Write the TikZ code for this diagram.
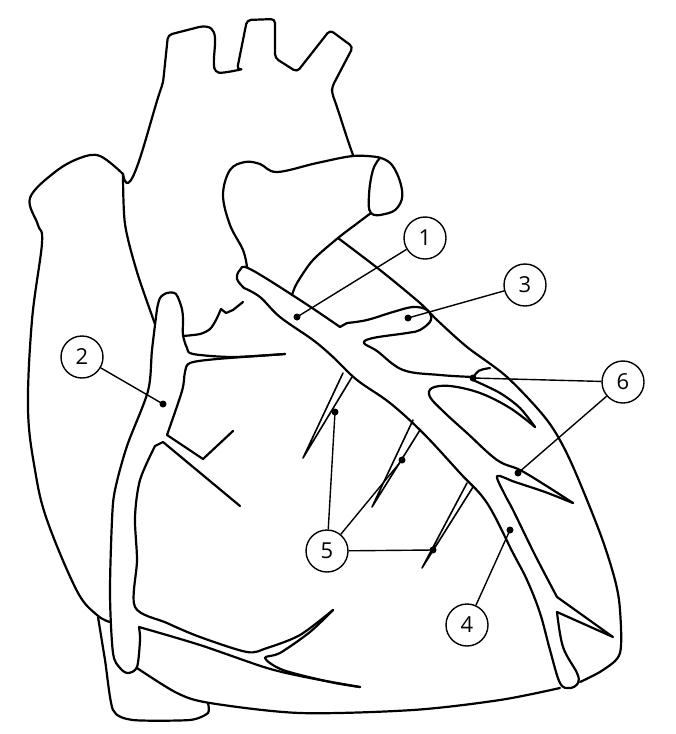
\documentclass[tikz,border=0pt]{standalone}
\usepackage{fontspec}
\setmainfont{Open Sans}
\begin{document}
\begin{tikzpicture}[x=1pt,y=-1pt,
  ol/.style={line width=2.2pt,line join=round,line cap=round},
  lbl/.style={circle,draw,line width=1.4pt,minimum size=42pt,inner sep=0pt,font=\fontsize{22}{22}\selectfont},
  lead/.style={line width=1.4pt},
  dotc/.style={circle,fill,inner sep=0pt,minimum size=7pt}]
\useasboundingbox (0,0) rectangle (676,734);
% aorta
\draw[ol,rounded corners=4pt] (123,174) to[out=-80,in=250] (163,83) -- (168,35) -- (203,26) to[out=-10,in=100] (215,72) to[out=-10,in=10] (237,70) -- (247,20) -- (275,19) -- (275,58) -- (297,72) -- (330,30) -- (353,47) -- (332,87) -- (332,93) to[out=-70,in=110] (353,155);
% right atrium
\draw[ol] plot[smooth,tension=0.6] coordinates {(123,174)(100,156)(80,158)(55,172)(30,198)(38,225)(42,243)(32,320)(28,409)(35,470)(47,520)(77,591)(97,615)(110,622)};
\draw[ol] plot[smooth] coordinates {(123,174)(125,224)(137,272)(155,324)};
% IVC
\draw[ol] plot[smooth,tension=0.4] coordinates {(98,617)(105,660)(113,710)(133,720)(190,720)(208,713)(208,703)};
% pulmonary trunk
\draw[ol] plot[smooth,tension=0.6] coordinates {(247,267)(243,250)(230,225)(223,195)(230,170)(245,162)(260,164)(277,172)(317,163)(353,156)(377,157)};
\draw[ol] plot[smooth,tension=0.7] coordinates {(377,157)(392,165)(402,190)(398,207)(385,214)(371,213)(369,195)(373,170)(380,158)};
\draw[ol] plot[smooth] coordinates {(371,213)(355,225)(338,238)(313,260)(297,283)(292,295)};
% heart right outline
\draw[ol] plot[smooth,tension=0.5] coordinates {(338,238)(380,270)(420,303)(437,320)(467,347)(507,377)(547,420)(570,460)(600,533)(615,580)(620,610)(620,653)(603,670)(580,682)};
% bottom
\draw[ol] plot[smooth,tension=0.5] coordinates {(137,668)(177,693)(210,703)(300,713)(413,710)(500,700)(560,688)};
% LAD upper
\draw[ol] plot[smooth,tension=0.6] coordinates {(244,288)(237,279)(240,270)(250,269)(300,300)(340,327)};
\draw[ol] (340,327) -- (347,323);
\draw[ol] plot[smooth,tension=0.6] coordinates {(347,323)(367,320)(393,312)(413,307)(427,310)(431,320)(420,330)(407,333)(373,338)(364,343)(377,351)(403,370)(440,375)(473,377)};
\draw[ol] plot[smooth,tension=0.5] coordinates {(473,380)(500,393)(520,408)(535,427)};
\draw[ol] plot[smooth,tension=0.6] coordinates {(535,427)(510,408)(480,393)(450,386)(432,388)(430,397)(445,413)(467,433)(497,460)(520,470)(545,485)(573,503)};
\draw[ol] plot[smooth,tension=0.5] coordinates {(573,503)(545,492)(515,482)(497,476)(505,495)(513,510)(535,555)(557,597)};
\draw[ol] (557,597) -- (613,637) -- (557,612);
\draw[ol] plot[smooth,tension=0.6] coordinates {(557,612)(563,647)(577,673)(578,683)(570,688)(560,683)(550,650)(540,613)(527,580)(513,553)(487,503)(460,473)(423,433)(390,403)(357,380)(333,357)(313,340)(280,317)(260,297)(244,288)};
\draw[ol] (473,378) .. controls (478,370) .. (490,368);
% septal branches
\draw[ol,line width=1.6pt] (352,377) -- (303,458) -- (343,373);
\draw[ol,line width=1.6pt] (420,430) -- (372,507) -- (413,420);
\draw[ol,line width=1.6pt] (473,487) -- (422,568) -- (467,483);
% RCA
\draw[ol] plot[smooth,tension=0.5] coordinates {(157,309)(152,350)(148,391)(127,446)(115,490)(112,520)(110,594)(113,653)(120,668)(128,673)(137,667)(140,640)(139,627)};
\draw[ol] plot[smooth,tension=0.5] coordinates {(139,627)(200,645)(267,668)(310,678)(360,687)};
\draw[ol] plot[smooth,tension=0.5] coordinates {(360,687)(330,682)(283,670)(265,658)(280,653)(310,632)(333,610)};
\draw[ol] plot[smooth,tension=0.5] coordinates {(333,610)(300,635)(267,648)(247,652)(200,637)(167,623)(135,607)(137,560)(135,517)(140,480)(155,446)};
\draw[ol] (155,446) -- (163,442) -- (240,506);
\draw[ol] (233,431) -- (203,459) -- (167,435);
\draw[ol] plot[smooth,tension=0.5] coordinates {(167,435)(182,391)(185,372)(190,363)(217,359)(285,354)};
\draw[ol] plot[smooth,tension=0.5] coordinates {(285,354)(233,357)(193,354)(187,348)(183,335)(183,320)(182,309)(176,294)(167,293)(160,298)(157,309)};
\draw[ol] plot[smooth,tension=0.5] coordinates {(183,336)(200,334)(210,329)(216,320)(221,309)};
\draw[ol] (221,309) -- (226,313) -- (233,310) -- (243,302);
% labels
\node[lbl] (c1) at (425,238) {1};
\node[lbl] (c2) at (82,357) {2};
\node[lbl] (c3) at (525,285) {3};
\node[lbl] (c4) at (467,625) {4};
\node[lbl] (c5) at (327,551) {5};
\node[lbl] (c6) at (623,382) {6};
\node[dotc] (d1) at (297,317) {};
\node[dotc] (d2) at (163,404) {};
\node[dotc] (d3) at (408,318) {};
\node[dotc] (d4) at (510,530) {};
\node[dotc] (d5a) at (335,412) {};
\node[dotc] (d5b) at (402,460) {};
\node[dotc] (d5c) at (433,550) {};
\node[dotc] (d6a) at (473,378) {};
\node[dotc] (d6b) at (518,473) {};
\draw[lead] (c1) -- (d1.center);
\draw[lead] (c2) -- (d2.center);
\draw[lead] (c3) -- (d3.center);
\draw[lead] (c4) -- (d4.center);
\draw[lead] (c5) -- (d5a.center);
\draw[lead] (c5) -- (d5b.center);
\draw[lead] (c5) -- (d5c.center);
\draw[lead] (c6) -- (d6a.center);
\draw[lead] (c6) -- (d6b.center);
\end{tikzpicture}
\end{document}
